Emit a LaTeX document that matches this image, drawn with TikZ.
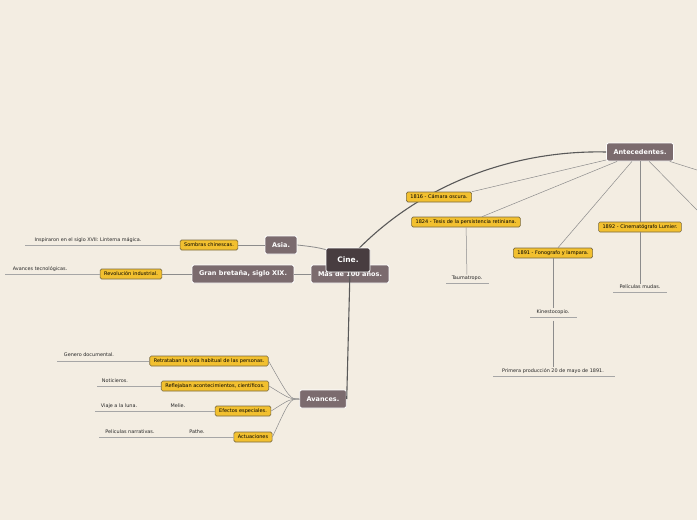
\documentclass[tikz,border=0pt]{standalone}
\usepackage{fontspec}
\setmainfont{DejaVu Sans}
\begin{document}
\begin{tikzpicture}[x=1pt,y=-1pt,
 main/.style={draw=white,line width=0.8pt,fill=mainc,text=white,rounded corners=2pt,font=\bfseries\fontsize{6.5}{7}\selectfont,minimum height=18pt,inner xsep=7pt},
 yel/.style={draw=yelb,line width=0.6pt,fill=yelf,rounded corners=1.5pt,font=\fontsize{5}{5.5}\selectfont,minimum height=10pt,inner xsep=4pt,inner ysep=1pt},
 lbl/.style={font=\fontsize{4.9}{5.5}\selectfont,text=black!85,inner sep=1pt},
 ul/.style={draw=gray!70,line width=0.7pt},
 con/.style={draw=gray!90,line width=0.5pt},
 big/.style={draw=black!65,line width=1.1pt}]
\definecolor{mainc}{HTML}{7B6B6E}
\definecolor{yelf}{HTML}{F2C02F}
\definecolor{yelb}{HTML}{7A6A40}
\fill[color={rgb,255:red,243;green,237;blue,226}] (0,0) rectangle (697,520);
\useasboundingbox (0,0) rectangle (697,520);
% center
\node[main] (mas) at (350,274) {Más de 100 años.};
\node[main] (gb) at (243,274) {Gran bretaña, siglo XIX.};
\node[main] (asia) at (281,245) {Asia.};
\node[main] (ant) at (640,152) {Antecedentes.};
\node[main] (av) at (323,399) {Avances.};
\draw[big] (348,260) .. controls (420,180) and (520,150) .. (ant.west);
\draw[big] (350,270) -- (av.east);
\draw[con] (gb) -- (mas);
\draw[con,line width=0.8pt] (asia.east) .. controls (315,247) and (325,248) .. (340,255);
\node[main,fill={rgb,255:red,72;green,61;blue,64},minimum width=44pt,minimum height=24pt,font=\bfseries\fontsize{7.5}{8}\selectfont] (cine) at (348,260) {Cine.};
% left
\node[yel] (rev) at (131,274) {Revolución industrial.};
\draw[con] (gb) -- (rev);
\coordinate (a1) at (5,274);
\node[lbl] (avt) at (40,269) {Avances tecnológicas.};
\draw[ul] (rev.west) -- (a1);
\node[yel] (som) at (209,245) {Sombras chinescas.};
\draw[con] (asia) -- (som);
\coordinate (a2) at (25,245);
\node[lbl] (insp) at (88,240) {Inspiraron en el siglo XVII: Linterna mágica.};
\draw[ul] (som.west) -- (a2);
% avances
\node[yel] (r1) at (209,361) {Retrataban la vida habitual de las personas.};
\node[yel] (r2) at (215,386) {Reflejaban acontecimientos, científicos.};
\node[yel] (r3) at (243,411) {Efectos especiales.};
\node[yel] (r4) at (253,437) {Actuaciones};
\foreach \n in {r1,r2,r3,r4} \draw[con] (av.west) .. controls (290,399) and (290,399) .. (\n.east);
\node[lbl] (g1) at (89,355) {Genero documental.};
\coordinate (c1) at (57,361); \draw[ul] (r1.west) -- (c1);
\node[lbl] (g2) at (115,381) {Noticieros.};
\coordinate (c2) at (97,386); \draw[ul] (r2.west) -- (c2);
\node[lbl] (g3) at (119,406) {Viaje a la luna.};
\node[lbl] (g3b) at (178,406) {Melie.};
\coordinate (c3) at (95,411); \draw[ul] (r3.west) -- (c3);
\node[lbl] (g4) at (130,432) {Peliculas narrativas.};
\node[lbl] (g4b) at (197,432) {Pathe.};
\coordinate (c4) at (99,437); \draw[ul] (r4.west) -- (c4);
% antecedentes
\node[yel] (y1) at (439,197) {1816 - Cámara oscura.};
\node[yel] (y2) at (466,222) {1824 - Tesis de la persistencia retiniana.};
\node[yel] (y3) at (553,253) {1891 - Fonografo y lampara.};
\node[yel] (y4) at (640,227) {1892 - Cinematógrafo Lumier.};
\draw[con] (ant) -- (y1.north east);
\draw[con] (ant) -- ([xshift=16pt]y2.north);
\draw[con] (ant) -- ([xshift=5pt]y3.north);
\draw[con] (ant) -- (y4);
\coordinate (e1) at (697,210); \coordinate (e2) at (697,170);
\draw[con] (ant) -- (e1); \draw[con] (ant) -- (e2);
\node[lbl] (tau) at (467,278) {Taumatropo.};
\draw[ul] (446,283) -- (489,283);
\draw[con] (y2) -- (tau);
\node[lbl] (kin) at (553,312) {Kinestocopio.};
\draw[ul] (530,317) -- (577,317);
\draw[con] (y3) -- (kin);
\node[lbl] (pri) at (553,371) {Primera producción 20 de mayo de 1891.};
\draw[ul] (493,376) -- (615,376);
\draw[con] (kin.south) ++(0,5) -- (pri);
\node[lbl] (pel) at (640,287) {Películas mudas.};
\draw[ul] (613,292) -- (667,292);
\draw[con] (y4) -- (pel);
\end{tikzpicture}
\end{document}
